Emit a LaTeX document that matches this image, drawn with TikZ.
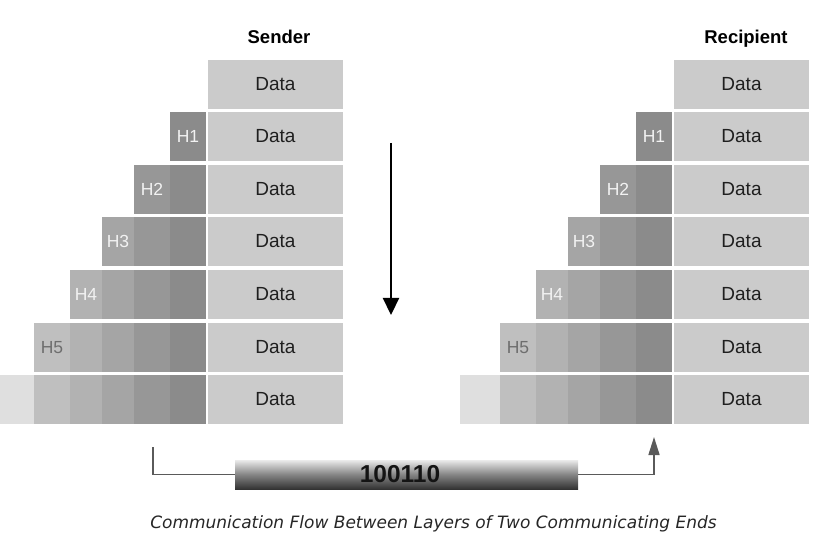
\documentclass[tikz,border=0pt]{standalone}
\usepackage{fontspec}
\setmainfont{Liberation Sans}
\newfontfamily\capfont{DejaVu Sans}
\usetikzlibrary{arrows.meta}
\definecolor{datagray}{HTML}{CBCBCB}
\definecolor{colone}{HTML}{8B8B8B}
\definecolor{coltwo}{HTML}{979797}
\definecolor{colthree}{HTML}{A5A5A5}
\definecolor{colfour}{HTML}{B2B2B2}
\definecolor{colfive}{HTML}{BFBFBF}
\definecolor{colsix}{HTML}{DFDFDF}
\definecolor{hdark}{HTML}{6E6E6E}
\definecolor{linegray}{HTML}{5A5A5A}
\tikzset{
  cellbox/.style={rectangle, inner sep=0pt, outer sep=0pt, draw=none},
  datatext/.style={font=\fontsize{19}{21}\selectfont, text=black!88},
  htext/.style={font=\fontsize{17.5}{19}\selectfont},
  titletext/.style={font=\bfseries\fontsize{18.5}{20}\selectfont, anchor=base},
  conn/.style={draw=linegray, line width=1.6pt},
  bitbar/.style={cellbox, minimum width=343pt, minimum height=29pt,
    top color=black!8, bottom color=black!80, middle color=black!48},
  bittext/.style={font=\bfseries\fontsize{24.5}{26}\selectfont, text=black!92, inner sep=0pt},
}
\begin{document}
\begin{tikzpicture}[x=1pt,y=-1pt]
\useasboundingbox (0,0) rectangle (817,540);
\foreach \side/\off/\ext in {s/0/0, r/466/-6} {
  \foreach \r/\yt/\yb in {0/60/109, 1/112/161, 2/165/214, 3/217/266, 4/270/319, 5/323/372, 6/375/424} {
    \node[cellbox, fill=datagray, datatext, minimum width=135pt,
          minimum height={\yb pt-\yt pt}]
      (\side d\r) at ({275.5+\off},{(\yt+\yb)/2}) {Data};
    \foreach \k/\xone/\xtwo/\col in {1/170/206/colone, 2/134/170/coltwo, 3/102/134/colthree, 4/70/102/colfour, 5/34/70/colfive, 6/0/34/colsix} {
      \ifnum\k>\r\relax\else
        \pgfmathsetmacro\xa{\xone+(\k==6)*\ext}
        \def\lab{}\def\tc{white}
        \ifnum\k=\r\relax
          \ifnum\k<6\relax
            \def\lab{H\k}
            \ifnum\k=5\relax\def\tc{hdark}\else\def\tc{white!95!black}\fi
          \fi
        \fi
        \node[cellbox, fill=\col, htext, text=\tc,
              minimum width={\xtwo pt-\xa pt}, minimum height={\yb pt-\yt pt}]
          (\side h\r c\k) at ({(\xa+\xtwo)/2+\off},{(\yt+\yb)/2}) {\lab};
      \fi
    }
  }
}
\node[titletext] (sender) at (279,44) {Sender};
\node[titletext] (recip) at (746,44) {Recipient};
% downward arrow
\coordinate (atop) at (391,143);
\coordinate (abot) at (391,315);
\draw[line width=2.2pt, -{Triangle[width=16pt,length=17pt]}] (atop) -- (abot);
% bit stream
\node[bitbar] (bits) at (406.5,474.5) {};
\node[bittext] (bitlabel) at (400,474.5) {100110};
\coordinate (sstart) at (153,447);
\coordinate (rend) at (654,437);
\draw[conn] (sstart) |- (bits.west);
\draw[conn, -{Triangle[width=11pt,length=18pt]}, linegray] (bits.east) -| (rend);
\node[font=\capfont\itshape\fontsize{17}{19}\selectfont, text=black!85, anchor=base]
  (cap) at (433.5,528) {Communication Flow Between Layers of Two Communicating Ends};
\end{tikzpicture}
\end{document}
